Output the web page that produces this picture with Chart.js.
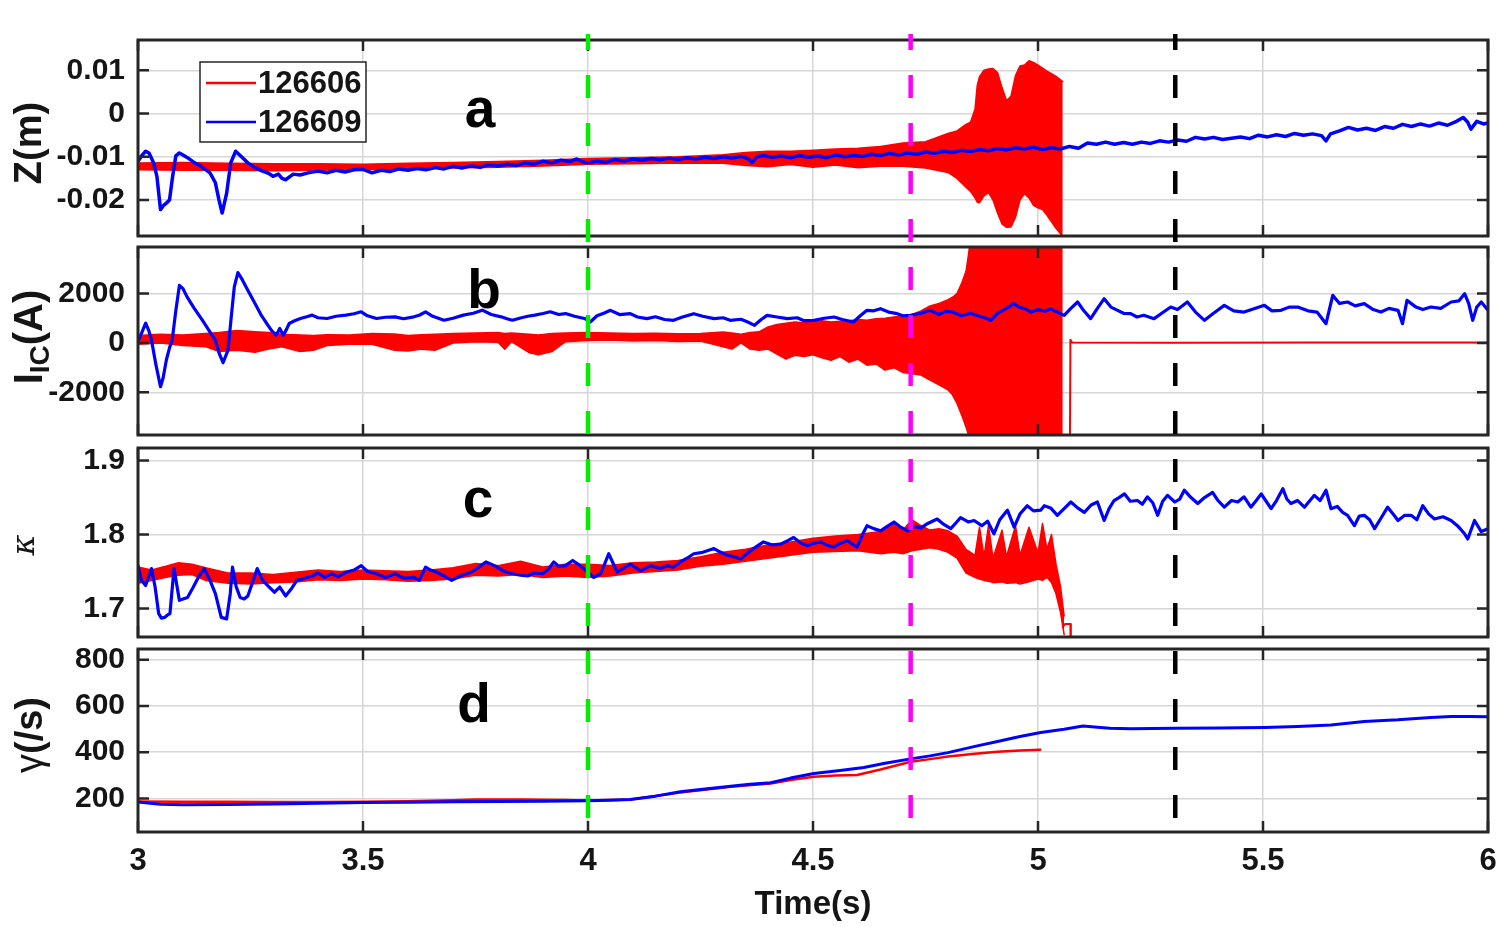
<!DOCTYPE html>
<html>
<head>
<meta charset="utf-8">
<title>Shot 126606 / 126609</title>
<script src="https://cdn.jsdelivr.net/npm/chart.js@4.4.0/dist/chart.umd.min.js"></script>
<style>
  body { margin: 0; background: #fff; }
  #wrap { position: relative; width: 1499px; height: 927px; }
  #wrap canvas { position: absolute; left: 0; top: 0; }
</style>
</head>
<body>
<div id="wrap">
  <canvas id="chartA" width="1499" height="927"></canvas>
  <canvas id="chartB" width="1499" height="927"></canvas>
  <canvas id="chartC" width="1499" height="927"></canvas>
  <canvas id="chartD" width="1499" height="927"></canvas>
</div>
<script>
// ---- data ----
const shotNames = ['126606', '126609'];
const shotColors = ['#ff0000', '#0000ff'];

const markerTimes = [4.0, 4.717, 5.305];
const markerColors = ['#00ee00', '#ff00ff', '#000000'];

const timeTicks = [3, 3.5, 4, 4.5, 5, 5.5, 6];
const timeTickLabels = ['3', '3.5', '4', '4.5', '5', '5.5', '6'];
const zTicks = [-0.02, -0.01, 0, 0.01];
const zTickLabels = ['-0.02', '-0.01', '0', '0.01'];
const icTicks = [-2000, 0, 2000];
const icTickLabels = ['-2000', '0', '2000'];
const kappaTicks = [1.7, 1.8, 1.9];
const kappaTickLabels = ['1.7', '1.8', '1.9'];
const gammaTicks = [200, 400, 600, 800];
const gammaTickLabels = ['200', '400', '600', '800'];

// (a) Z(m) - 126606 is an oscillating band, kept as upper / lower envelope
const tZr = [3.00, 3.10, 3.20, 3.30, 3.40, 3.50, 3.60, 3.70, 3.80, 3.90,
  4.00, 4.10, 4.20, 4.30, 4.35, 4.40, 4.45, 4.50, 4.55, 4.60,
  4.65, 4.70, 4.75, 4.80, 4.82, 4.84, 4.85, 4.86, 4.865, 4.87,
  4.88, 4.89, 4.90, 4.91, 4.92, 4.93, 4.94, 4.95, 4.96, 4.97,
  4.98, 4.99, 5.00, 5.01, 5.02, 5.03, 5.04, 5.05, 5.055];
const zRedHi = [-0.0114, -0.0113, -0.0115, -0.0116, -0.0116, -0.0117, -0.0115, -0.0113, -0.0111, -0.0108,
  -0.0104, -0.0102, -0.0100, -0.0095, -0.0090, -0.0087, -0.0087, -0.0085, -0.0082, -0.0080,
  -0.0076, -0.0068, -0.0065, -0.0046, -0.0040, -0.0025, -0.0020, 0.0010, 0.0065, 0.0085,
  0.0100, 0.0103, 0.0104, 0.0095, 0.0060, 0.0030, 0.0040, 0.0088, 0.0110, 0.0112,
  0.0122, 0.0118, 0.0112, 0.0105, 0.0098, 0.0092, 0.0086, 0.0078, 0.0074];
const zRedLo = [-0.0130, -0.0131, -0.0131, -0.0132, -0.0131, -0.0130, -0.0128, -0.0126, -0.0124, -0.0121,
  -0.0117, -0.0116, -0.0114, -0.0115, -0.0120, -0.0123, -0.0118, -0.0124, -0.0119, -0.0125,
  -0.0122, -0.0122, -0.0126, -0.0136, -0.0150, -0.0170, -0.0180, -0.0195, -0.0205, -0.0206,
  -0.0190, -0.0183, -0.0200, -0.0230, -0.0255, -0.0263, -0.0262, -0.0240, -0.0200, -0.0185,
  -0.0195, -0.0212, -0.0218, -0.0222, -0.0235, -0.0250, -0.0265, -0.0278, -0.0283];

const tZb = [3.000, 3.008, 3.017, 3.025, 3.035, 3.042, 3.050, 3.057, 3.063, 3.070,
  3.077, 3.084, 3.092, 3.100, 3.110, 3.126, 3.140, 3.160, 3.172, 3.180,
  3.187, 3.197, 3.206, 3.217, 3.230, 3.244, 3.260, 3.277, 3.290, 3.300,
  3.312, 3.320, 3.328, 3.345, 3.360, 3.378, 3.40, 3.42, 3.44, 3.46,
  3.48, 3.50, 3.52, 3.54, 3.56, 3.58, 3.60, 3.62, 3.64, 3.66,
  3.68, 3.70, 3.72, 3.74, 3.76, 3.78, 3.80, 3.82, 3.84, 3.86,
  3.88, 3.90, 3.92, 3.94, 3.96, 3.975, 3.99, 4.00, 4.02, 4.04,
  4.06, 4.08, 4.10, 4.12, 4.14, 4.16, 4.18, 4.20, 4.22, 4.24,
  4.26, 4.28, 4.30, 4.32, 4.34, 4.355, 4.365, 4.375, 4.39, 4.41,
  4.43, 4.45, 4.47, 4.49, 4.51, 4.53, 4.55, 4.57, 4.59, 4.61,
  4.63, 4.65, 4.67, 4.69, 4.71, 4.73, 4.75, 4.77, 4.79, 4.81,
  4.83, 4.85, 4.87, 4.89, 4.91, 4.93, 4.95, 4.97, 4.99, 5.01,
  5.03, 5.05, 5.07, 5.09, 5.11, 5.13, 5.15, 5.17, 5.19, 5.21,
  5.23, 5.25, 5.27, 5.29, 5.31, 5.33, 5.35, 5.37, 5.39, 5.41,
  5.43, 5.45, 5.47, 5.49, 5.51, 5.53, 5.55, 5.57, 5.59, 5.61,
  5.63, 5.64, 5.65, 5.67, 5.69, 5.71, 5.73, 5.75, 5.77, 5.79,
  5.81, 5.83, 5.85, 5.87, 5.89, 5.91, 5.93, 5.945, 5.955, 5.962,
  5.975, 5.99, 6.00];
const zBlue = [-0.0110, -0.0098, -0.0087, -0.0092, -0.0115, -0.0145, -0.0222, -0.0212, -0.0207, -0.0200,
  -0.0145, -0.0098, -0.0091, -0.0096, -0.0102, -0.0114, -0.0122, -0.0137, -0.0160, -0.0200,
  -0.0230, -0.0184, -0.0114, -0.0087, -0.0100, -0.0114, -0.0125, -0.0133, -0.0138, -0.0145,
  -0.0140, -0.0150, -0.0153, -0.0140, -0.0142, -0.0137, -0.0133, -0.0137, -0.0131, -0.0135,
  -0.0130, -0.0129, -0.0137, -0.0131, -0.0134, -0.0128, -0.0131, -0.0127, -0.0130, -0.0125,
  -0.0128, -0.0122, -0.0126, -0.0121, -0.0124, -0.0118, -0.0121, -0.0117, -0.0120, -0.0114,
  -0.0117, -0.0110, -0.0114, -0.0108, -0.0111, -0.0105, -0.0112, -0.0114, -0.0110, -0.0113,
  -0.0106, -0.0110, -0.0105, -0.0108, -0.0104, -0.0107, -0.0103, -0.0106, -0.0102, -0.0105,
  -0.0101, -0.0104, -0.0100, -0.0103, -0.0099, -0.0104, -0.0113, -0.0100, -0.0097, -0.0101,
  -0.0098, -0.0102, -0.0097, -0.0101, -0.0098, -0.0102, -0.0096, -0.0100, -0.0097, -0.0099,
  -0.0094, -0.0097, -0.0092, -0.0096, -0.0091, -0.0094, -0.0089, -0.0092, -0.0087, -0.0090,
  -0.0085, -0.0088, -0.0083, -0.0086, -0.0081, -0.0084, -0.0079, -0.0082, -0.0078, -0.0083,
  -0.0079, -0.0082, -0.0076, -0.0080, -0.0068, -0.0071, -0.0066, -0.0071, -0.0067, -0.0071,
  -0.0066, -0.0069, -0.0063, -0.0066, -0.0061, -0.0064, -0.0055, -0.0059, -0.0055, -0.0060,
  -0.0057, -0.0054, -0.0058, -0.0050, -0.0054, -0.0049, -0.0053, -0.0046, -0.0050, -0.0047,
  -0.0051, -0.0063, -0.0047, -0.0040, -0.0032, -0.0038, -0.0034, -0.0039, -0.0030, -0.0034,
  -0.0025, -0.0030, -0.0024, -0.0029, -0.0022, -0.0027, -0.0018, -0.0009, -0.0020, -0.0036,
  -0.0018, -0.0024, -0.0022];

// (b) I_IC(A)
const tIr = [3.00, 3.05, 3.10, 3.15, 3.18, 3.22, 3.26, 3.29, 3.32, 3.36,
  3.39, 3.42, 3.47, 3.52, 3.57, 3.60, 3.63, 3.66, 3.70, 3.75,
  3.80, 3.815, 3.83, 3.87, 3.89, 3.92, 3.95, 4.00, 4.05, 4.10,
  4.15, 4.20, 4.25, 4.30, 4.32, 4.34, 4.36, 4.38, 4.40, 4.42,
  4.44, 4.46, 4.48, 4.50, 4.52, 4.54, 4.56, 4.58, 4.60, 4.62,
  4.64, 4.66, 4.68, 4.70, 4.72, 4.74, 4.76, 4.78, 4.80, 4.81,
  4.82, 4.83, 4.84, 4.845, 4.85, 5.055];
const iRedHi = [300, 350, 320, 380, 420, 500, 450, 420, 350, 320,
  300, 330, 320, 380, 360, 300, 330, 350, 380, 400,
  420, 380, 400, 350, 320, 380, 400, 420, 400, 380,
  390, 370, 380, 440, 400, 350, 420, 450, 650, 750,
  800, 850, 820, 850, 900, 850, 880, 900, 950, 920,
  980, 1000, 1050, 1100, 1150, 1300, 1500, 1600, 1750, 1850,
  2000, 2400, 2900, 3500, 4200, 4200];
const iRedLo = [-50, 0, -100, -150, -350, -300, -380, -250, -150, -350,
  -300, -100, -50, -50, -300, -330, -250, -300, 0, 50,
  30, -250, 50, -400, -480, -350, 50, 100, 120, 80,
  100, 60, 80, -150, -250, 0, -250, -300, -250, -450,
  -650, -500, -550, -480, -600, -700, -550, -780, -650, -900,
  -850, -1100, -1000, -1200, -1250, -1300, -1500, -1700, -1900, -2100,
  -2450, -2900, -3400, -3700, -4000, -4000];
const tIrAfter = [5.055, 5.071, 5.072, 5.076, 5.30, 5.60, 6.00];
const iRedAfter = [-4000, -4000, 130, 20, 10, 15, 15];

const tIb = [3.000, 3.008, 3.017, 3.024, 3.030, 3.040, 3.050, 3.056, 3.063, 3.070,
  3.076, 3.084, 3.092, 3.100, 3.109, 3.125, 3.143, 3.158, 3.172, 3.180,
  3.189, 3.200, 3.208, 3.214, 3.222, 3.232, 3.244, 3.260, 3.273, 3.286,
  3.297, 3.307, 3.315, 3.323, 3.330, 3.336, 3.348, 3.361, 3.375, 3.387,
  3.40, 3.42, 3.44, 3.462, 3.48, 3.496, 3.51, 3.53, 3.55, 3.571,
  3.59, 3.613, 3.625, 3.639, 3.655, 3.68, 3.70, 3.723, 3.745, 3.765,
  3.785, 3.807, 3.82, 3.832, 3.85, 3.866, 3.882, 3.90, 3.916, 3.935,
  3.95, 3.97, 3.992, 4.005, 4.02, 4.035, 4.05, 4.07, 4.094, 4.11,
  4.131, 4.15, 4.17, 4.19, 4.21, 4.235, 4.255, 4.28, 4.30, 4.316,
  4.34, 4.355, 4.37, 4.385, 4.398, 4.42, 4.443, 4.465, 4.48, 4.502,
  4.525, 4.547, 4.565, 4.59, 4.605, 4.62, 4.635, 4.65, 4.668, 4.687,
  4.70, 4.717, 4.74, 4.76, 4.78, 4.795, 4.81, 4.83, 4.85, 4.87,
  4.885, 4.895, 4.91, 4.93, 4.946, 4.958, 4.97, 4.985, 5.00, 5.015,
  5.028, 5.043, 5.058, 5.073, 5.088, 5.102, 5.117, 5.132, 5.147, 5.162,
  5.177, 5.19, 5.206, 5.22, 5.235, 5.258, 5.275, 5.295, 5.31, 5.332,
  5.35, 5.37, 5.39, 5.414, 5.435, 5.458, 5.48, 5.503, 5.52, 5.54,
  5.558, 5.577, 5.60, 5.62, 5.64, 5.655, 5.67, 5.688, 5.705, 5.725,
  5.745, 5.762, 5.78, 5.80, 5.81, 5.82, 5.84, 5.855, 5.873, 5.895,
  5.918, 5.935, 5.948, 5.957, 5.966, 5.975, 5.985, 6.000];
const iBlue = [50, 400, 800, 500, 115, -900, -1770, -1400, -690, -200,
  115, 1300, 2330, 2200, 1865, 1400, 920, 500, 115, -400,
  -800, -290, 1200, 2270, 2850, 2550, 2135, 1596, 1150, 788,
  500, 316, 586, 316, 550, 788, 900, 990, 1060, 1125,
  1020, 990, 1080, 1125, 1180, 1260, 1100, 990, 1040, 1057,
  980, 1057, 1120, 1260, 1080, 920, 1000, 1125, 1200, 1327,
  1150, 1057, 980, 920, 1010, 1080, 1125, 1190, 1260, 1150,
  1190, 1080, 990, 849, 1100, 1200, 1320, 1150, 1185, 1050,
  983, 1060, 950, 916, 1050, 1185, 1080, 983, 1020, 916,
  960, 850, 714, 950, 1118, 1050, 983, 1020, 900, 916,
  1000, 1050, 950, 849, 1100, 1320, 1300, 1387, 1250, 1185,
  1100, 1118, 1200, 1320, 1150, 1280, 1253, 1100, 1200, 1080,
  1000, 916, 1200, 1400, 1590, 1450, 1387, 1250, 1350, 1280,
  1380, 1250, 1118, 1400, 1657, 1300, 983, 1400, 1791, 1450,
  1320, 1200, 1185, 1050, 1120, 983, 1200, 1455, 1350, 1657,
  1250, 916, 1200, 1522, 1300, 1250, 1380, 1522, 1300, 1320,
  1450, 1455, 1300, 1250, 781, 1926, 1600, 1657, 1500, 1590,
  1350, 1250, 1400, 1320, 781, 1724, 1450, 1350, 1455, 1400,
  1657, 1700, 1994, 1600, 916, 1450, 1657, 1320];

// (c) kappa
const tKr = [3.00, 3.03, 3.06, 3.09, 3.12, 3.15, 3.20, 3.25, 3.30, 3.35,
  3.40, 3.45, 3.50, 3.55, 3.60, 3.65, 3.70, 3.75, 3.80, 3.85,
  3.90, 3.95, 4.00, 4.05, 4.10, 4.15, 4.20, 4.25, 4.30, 4.35,
  4.40, 4.45, 4.50, 4.55, 4.60, 4.65, 4.68, 4.70, 4.72, 4.74,
  4.76, 4.78, 4.80, 4.82, 4.84, 4.86, 4.87, 4.88, 4.89, 4.90,
  4.92, 4.93, 4.95, 4.96, 4.98, 5.00, 5.01, 5.02, 5.03, 5.04,
  5.05, 5.058];
const kRedHi = [1.756, 1.752, 1.757, 1.762, 1.760, 1.755, 1.748, 1.748, 1.746, 1.749,
  1.752, 1.750, 1.752, 1.751, 1.750, 1.752, 1.755, 1.761, 1.758, 1.764,
  1.756, 1.760, 1.760, 1.758, 1.762, 1.763, 1.765, 1.770, 1.776, 1.780,
  1.786, 1.790, 1.795, 1.798, 1.800, 1.804, 1.815, 1.806, 1.820, 1.812,
  1.806, 1.808, 1.805, 1.798, 1.780, 1.772, 1.810, 1.770, 1.812, 1.768,
  1.806, 1.770, 1.812, 1.772, 1.810, 1.775, 1.815, 1.780, 1.800, 1.760,
  1.730, 1.690];
const kRedLo = [1.734, 1.738, 1.742, 1.745, 1.746, 1.738, 1.734, 1.733, 1.735, 1.736,
  1.739, 1.738, 1.740, 1.739, 1.737, 1.738, 1.740, 1.745, 1.744, 1.746,
  1.742, 1.744, 1.742, 1.744, 1.748, 1.750, 1.752, 1.757, 1.760, 1.764,
  1.768, 1.772, 1.776, 1.777, 1.778, 1.774, 1.776, 1.774, 1.778, 1.780,
  1.782, 1.780, 1.776, 1.768, 1.748, 1.742, 1.740, 1.738, 1.737, 1.735,
  1.736, 1.734, 1.735, 1.733, 1.736, 1.740, 1.738, 1.742, 1.735, 1.720,
  1.695, 1.665];
const tKrAfter = [5.055, 5.060, 5.072, 5.073];
const kRedAfter = [1.675, 1.679, 1.679, 1.60];

const tKb = [3.000, 3.008, 3.017, 3.030, 3.038, 3.046, 3.052, 3.059, 3.065, 3.071,
  3.080, 3.092, 3.100, 3.110, 3.122, 3.134, 3.147, 3.160, 3.172, 3.185,
  3.197, 3.205, 3.210, 3.218, 3.227, 3.236, 3.244, 3.255, 3.265, 3.277,
  3.290, 3.303, 3.315, 3.328, 3.340, 3.353, 3.370, 3.387, 3.40, 3.415,
  3.43, 3.445, 3.462, 3.48, 3.496, 3.51, 3.53, 3.55, 3.571, 3.59,
  3.613, 3.625, 3.639, 3.65, 3.664, 3.68, 3.697, 3.72, 3.74, 3.755,
  3.773, 3.785, 3.798, 3.815, 3.832, 3.85, 3.866, 3.88, 3.899, 3.912,
  3.924, 3.935, 3.95, 3.966, 3.98, 4.000, 4.013, 4.028, 4.046, 4.065,
  4.080, 4.094, 4.117, 4.139, 4.16, 4.176, 4.19, 4.205, 4.22, 4.235,
  4.255, 4.28, 4.295, 4.31, 4.325, 4.339, 4.361, 4.375, 4.39, 4.41,
  4.428, 4.445, 4.457, 4.472, 4.487, 4.50, 4.517, 4.53, 4.546, 4.56,
  4.576, 4.59, 4.598, 4.61, 4.62, 4.635, 4.65, 4.665, 4.68, 4.695,
  4.71, 4.725, 4.74, 4.755, 4.776, 4.79, 4.806, 4.818, 4.828, 4.845,
  4.858, 4.875, 4.888, 4.902, 4.915, 4.932, 4.947, 4.96, 4.976, 4.99,
  5.006, 5.014, 5.028, 5.043, 5.058, 5.073, 5.088, 5.103, 5.118, 5.132,
  5.147, 5.158, 5.169, 5.180, 5.192, 5.205, 5.221, 5.232, 5.243, 5.255,
  5.266, 5.277, 5.288, 5.304, 5.315, 5.325, 5.34, 5.355, 5.37, 5.388,
  5.40, 5.414, 5.43, 5.444, 5.458, 5.473, 5.485, 5.496, 5.507, 5.518,
  5.53, 5.544, 5.553, 5.562, 5.577, 5.592, 5.603, 5.614, 5.627, 5.64,
  5.651, 5.665, 5.677, 5.688, 5.703, 5.714, 5.725, 5.737, 5.748, 5.762,
  5.777, 5.79, 5.80, 5.815, 5.829, 5.842, 5.855, 5.868, 5.881, 5.90,
  5.918, 5.932, 5.948, 5.955, 5.97, 5.985, 6.000];
const kBlue = [1.758, 1.738, 1.731, 1.754, 1.729, 1.693, 1.687, 1.688, 1.691, 1.693,
  1.754, 1.711, 1.713, 1.715, 1.728, 1.742, 1.754, 1.738, 1.720, 1.688,
  1.686, 1.720, 1.756, 1.730, 1.715, 1.713, 1.717, 1.736, 1.754, 1.738,
  1.730, 1.722, 1.729, 1.717, 1.726, 1.738, 1.741, 1.744, 1.748, 1.742,
  1.747, 1.743, 1.749, 1.752, 1.758, 1.750, 1.747, 1.742, 1.747, 1.741,
  1.742, 1.738, 1.756, 1.752, 1.749, 1.744, 1.738, 1.745, 1.749, 1.755,
  1.763, 1.760, 1.756, 1.750, 1.747, 1.745, 1.744, 1.748, 1.747, 1.753,
  1.763, 1.757, 1.758, 1.765, 1.759, 1.749, 1.742, 1.747, 1.774, 1.749,
  1.755, 1.760, 1.751, 1.758, 1.754, 1.758, 1.756, 1.763, 1.768, 1.774,
  1.776, 1.781, 1.776, 1.772, 1.770, 1.767, 1.778, 1.784, 1.790, 1.786,
  1.787, 1.792, 1.796, 1.789, 1.785, 1.788, 1.790, 1.786, 1.783, 1.788,
  1.792, 1.786, 1.783, 1.800, 1.812, 1.808, 1.805, 1.811, 1.817, 1.810,
  1.805, 1.811, 1.809, 1.815, 1.821, 1.814, 1.808, 1.816, 1.823, 1.817,
  1.819, 1.812, 1.818, 1.801, 1.820, 1.833, 1.810, 1.828, 1.839, 1.832,
  1.833, 1.839, 1.836, 1.826, 1.835, 1.844, 1.836, 1.830, 1.840, 1.844,
  1.819, 1.835, 1.846, 1.850, 1.855, 1.845, 1.846, 1.841, 1.851, 1.843,
  1.826, 1.845, 1.853, 1.844, 1.848, 1.860, 1.850, 1.842, 1.850, 1.857,
  1.846, 1.837, 1.846, 1.844, 1.851, 1.837, 1.846, 1.855, 1.845, 1.835,
  1.846, 1.862, 1.848, 1.842, 1.846, 1.837, 1.845, 1.853, 1.846, 1.860,
  1.835, 1.838, 1.830, 1.826, 1.812, 1.825, 1.826, 1.820, 1.808, 1.822,
  1.837, 1.827, 1.819, 1.826, 1.826, 1.820, 1.839, 1.828, 1.821, 1.824,
  1.819, 1.812, 1.801, 1.794, 1.819, 1.804, 1.808];

// (d) gamma (/s)
const tGr = [3.00, 3.10, 3.20, 3.30, 3.40, 3.50, 3.60, 3.70, 3.75, 3.85,
  3.95, 4.00, 4.094, 4.205, 4.317, 4.406, 4.45, 4.502, 4.55, 4.598,
  4.65, 4.717, 4.76, 4.80, 4.86, 4.91, 4.96, 5.005];
const gRed = [187, 186, 186, 185, 185, 186, 188, 192, 195, 195,
  193, 191, 195, 226, 251, 265, 280, 294, 299, 301,
  325, 359, 370, 381, 393, 402, 407, 411];
const tGb = [3.00, 3.05, 3.10, 3.20, 3.30, 3.40, 3.50, 3.60, 3.70, 3.80,
  3.90, 4.00, 4.05, 4.094, 4.15, 4.205, 4.26, 4.317, 4.36, 4.406,
  4.45, 4.502, 4.56, 4.613, 4.66, 4.717, 4.76, 4.80, 4.86, 4.91,
  4.96, 5.006, 5.03, 5.058, 5.10, 5.132, 5.16, 5.206, 5.304, 5.40,
  5.503, 5.577, 5.651, 5.725, 5.80, 5.873, 5.918, 5.96, 6.00];
const gBlue = [185, 175, 173, 174, 176, 179, 182, 184, 186, 187,
  188, 190, 192, 195, 210, 229, 241, 253, 261, 268,
  288, 308, 321, 334, 352, 371, 384, 398, 425, 446,
  468, 485, 492, 499, 513, 508, 503, 501, 503, 504,
  507, 511, 518, 533, 540, 550, 554, 554, 553];

// ---- drawing ----
const FONT = "'Liberation Sans', Arial, Helvetica, sans-serif";
const TEXT = '#151515';
const GRID = '#d6d6d6';
const PLOT_LEFT = 138;
const PLOT_RIGHT = 1488;
const W = 1499, H = 927;

// per-panel decorations, looked up by canvas id (kept out of Chart's option resolver)
const decorById = {};

function pts(t, v) {
  return t.map((x, i) => ({ x: x, y: v[i] }));
}

function lineSet(label, t, v, color, width, order) {
  return { label: label, data: pts(t, v), borderColor: color, borderWidth: width, fill: false, order: order };
}

function bandSet(label, t, hi, lo, color, order) {
  return [
    { label: label, data: pts(t, hi), borderColor: color, backgroundColor: color, borderWidth: 1.5, fill: '+1', order: order },
    { label: label + ' low', data: pts(t, lo), borderColor: color, borderWidth: 1.5, fill: false, order: order + 1 },
  ];
}

function fontOf(p) {
  return (p.style || 'normal') + ' ' + (p.weight || 'bold') + ' ' + p.size + 'px ' + (p.family || FONT);
}

const decorPlugin = {
  id: 'decor',
  afterDraw(chart) {
    const o = decorById[chart.canvas.id];
    const ctx = chart.ctx;
    const a = chart.chartArea;
    const xs = chart.scales.x;
    const ys = chart.scales.y;
    ctx.save();

    // inward tick marks and box
    ctx.strokeStyle = '#262626';
    ctx.lineWidth = 2.5;
    ctx.beginPath();
    xs.ticks.forEach(t => {
      const px = xs.getPixelForValue(t.value);
      ctx.moveTo(px, a.bottom); ctx.lineTo(px, a.bottom - 11);
      ctx.moveTo(px, a.top); ctx.lineTo(px, a.top + 11);
    });
    ys.ticks.forEach(t => {
      const py = ys.getPixelForValue(t.value);
      ctx.moveTo(a.left, py); ctx.lineTo(a.left + 11, py);
      ctx.moveTo(a.right, py); ctx.lineTo(a.right - 11, py);
    });
    ctx.stroke();
    ctx.lineWidth = 3;
    ctx.strokeRect(a.left, a.top, a.right - a.left, a.bottom - a.top);

    // dashed time markers
    const y0 = a.top - 6;
    const y1 = a.bottom + 6;
    ctx.lineWidth = 4.5;
    ctx.setLineDash([23, 25]);
    ctx.lineDashOffset = y0 - 27;
    markerTimes.forEach((t, i) => {
      const px = xs.getPixelForValue(t);
      ctx.strokeStyle = markerColors[i];
      ctx.beginPath();
      ctx.moveTo(px, y0);
      ctx.lineTo(px, y1);
      ctx.stroke();
    });
    ctx.setLineDash([]);

    // panel letter
    ctx.fillStyle = '#000';
    ctx.font = 'bold 55px ' + FONT;
    ctx.textAlign = 'center';
    ctx.textBaseline = 'alphabetic';
    ctx.fillText(o.letter, o.letterX, o.letterY);

    // legend
    if (o.legend) {
      const L = o.legend;
      ctx.fillStyle = '#fff';
      ctx.fillRect(L.left, L.top, L.right - L.left, L.bottom - L.top);
      ctx.strokeStyle = '#262626';
      ctx.lineWidth = 1.5;
      ctx.strokeRect(L.left, L.top, L.right - L.left, L.bottom - L.top);
      ctx.font = 'bold 31px ' + FONT;
      ctx.textAlign = 'left';
      ctx.textBaseline = 'middle';
      shotNames.forEach((name, i) => {
        ctx.strokeStyle = shotColors[i];
        ctx.lineWidth = 2.5;
        ctx.beginPath();
        ctx.moveTo(L.lineFrom, L.rows[i]);
        ctx.lineTo(L.lineTo, L.rows[i]);
        ctx.stroke();
        ctx.fillStyle = TEXT;
        ctx.fillText(name, L.textX, L.rows[i] + 1);
      });
    }

    // rotated y title (pieces allow the subscript)
    ctx.translate(o.titleX, o.titleY);
    ctx.rotate(-Math.PI / 2);
    ctx.textAlign = 'left';
    ctx.textBaseline = 'middle';
    ctx.fillStyle = TEXT;
    let total = 0;
    o.title.forEach(p => { ctx.font = fontOf(p); total += ctx.measureText(p.text).width; });
    let cx = -total / 2;
    o.title.forEach(p => {
      ctx.font = fontOf(p);
      ctx.fillText(p.text, cx, p.dy || 0);
      cx += ctx.measureText(p.text).width;
    });
    ctx.restore();
  }
};

function makePanel(p) {
  const showX = !!p.showX;
  decorById[p.id] = p.decor;
  return new Chart(document.getElementById(p.id), {
    type: 'line',
    data: { datasets: p.datasets },
    options: {
      responsive: false,
      animation: false,
      events: [],
      layout: {
        padding: { left: 0, right: W - PLOT_RIGHT, top: p.top, bottom: showX ? 0 : H - p.bottom },
      },
      elements: {
        point: { radius: 0 },
        line: { tension: 0, borderJoinStyle: 'round', borderCapStyle: 'round' },
      },
      scales: {
        x: {
          type: 'linear',
          min: 3,
          max: 6,
          afterBuildTicks: s => { s.ticks = timeTicks.map(v => ({ value: v })); },
          afterFit: s => {
            s.height = showX ? H - p.bottom : 0;
            s.paddingLeft = 0;
            s.paddingRight = 0;
          },
          grid: { color: GRID, lineWidth: 1.5, drawTicks: false },
          border: { display: false },
          ticks: {
            display: showX,
            autoSkip: false,
            maxRotation: 0,
            padding: 11,
            color: TEXT,
            font: { family: FONT, size: 31, weight: 'bold' },
            callback: v => timeTickLabels[timeTicks.indexOf(v)],
          },
          title: {
            display: showX,
            text: 'Time(s)',
            color: TEXT,
            font: { family: FONT, size: 33, weight: 'bold' },
            padding: { top: 0, bottom: 2 },
          },
        },
        y: {
          type: 'linear',
          min: p.yMin,
          max: p.yMax,
          afterBuildTicks: s => { s.ticks = p.yTicks.map(v => ({ value: v })); },
          afterFit: s => { s.width = PLOT_LEFT; },
          grid: { color: GRID, lineWidth: 1.5, drawTicks: false },
          border: { display: false },
          ticks: {
            padding: 13,
            color: TEXT,
            font: { family: FONT, size: 30, weight: 'bold' },
            callback: v => p.yLabels[p.yTicks.indexOf(v)],
          },
        },
      },
      plugins: {
        legend: { display: false },
        tooltip: { enabled: false },
      },
    },
    plugins: [decorPlugin],
  });
}

makePanel({
  id: 'chartA', top: 40, bottom: 236,
  yMin: -0.0283, yMax: 0.017, yTicks: zTicks, yLabels: zTickLabels,
  datasets: [
    lineSet(shotNames[1], tZb, zBlue, shotColors[1], 3.5, 0),
    ...bandSet(shotNames[0], tZr, zRedHi, zRedLo, shotColors[0], 1),
  ],
  decor: {
    letter: 'a', letterX: 480, letterY: 127,
    title: [{ text: 'Z(m)', size: 38 }], titleX: 31, titleY: 143,
    legend: { left: 200, top: 62, right: 366, bottom: 142, rows: [83, 122], lineFrom: 206, lineTo: 256, textX: 258 },
  },
});

makePanel({
  id: 'chartB', top: 247, bottom: 435,
  yMin: -3725, yMax: 3883, yTicks: icTicks, yLabels: icTickLabels,
  datasets: [
    lineSet(shotNames[1], tIb, iBlue, shotColors[1], 3.2, 0),
    ...bandSet(shotNames[0], tIr, iRedHi, iRedLo, shotColors[0], 1),
    lineSet(shotNames[0] + ' after', tIrAfter, iRedAfter, shotColors[0], 2, 3),
  ],
  decor: {
    letter: 'b', letterX: 484, letterY: 308,
    title: [{ text: 'I', size: 40 }, { text: 'IC', size: 28, dy: 10 }, { text: '(A)', size: 40 }],
    titleX: 31, titleY: 337,
  },
});

makePanel({
  id: 'chartC', top: 448, bottom: 637,
  yMin: 1.6615, yMax: 1.917, yTicks: kappaTicks, yLabels: kappaTickLabels,
  datasets: [
    lineSet(shotNames[1], tKb, kBlue, shotColors[1], 3.2, 0),
    ...bandSet(shotNames[0], tKr, kRedHi, kRedLo, shotColors[0], 1),
    lineSet(shotNames[0] + ' after', tKrAfter, kRedAfter, shotColors[0], 2, 3),
  ],
  decor: {
    letter: 'c', letterX: 478, letterY: 517,
    title: [{ text: 'κ', size: 32, weight: 'normal', style: 'italic', family: "'DejaVu Serif', serif" }],
    titleX: 26, titleY: 545,
  },
});

makePanel({
  id: 'chartD', top: 649, bottom: 832, showX: true,
  yMin: 55, yMax: 846, yTicks: gammaTicks, yLabels: gammaTickLabels,
  datasets: [
    lineSet(shotNames[1], tGb, gBlue, shotColors[1], 3, 0),
    lineSet(shotNames[0], tGr, gRed, shotColors[0], 2.5, 1),
  ],
  decor: {
    letter: 'd', letterX: 474, letterY: 722,
    title: [{ text: 'γ', size: 38, weight: 'normal' }, { text: '(/s)', size: 38 }],
    titleX: 32, titleY: 735,
  },
});
</script>
</body>
</html>
